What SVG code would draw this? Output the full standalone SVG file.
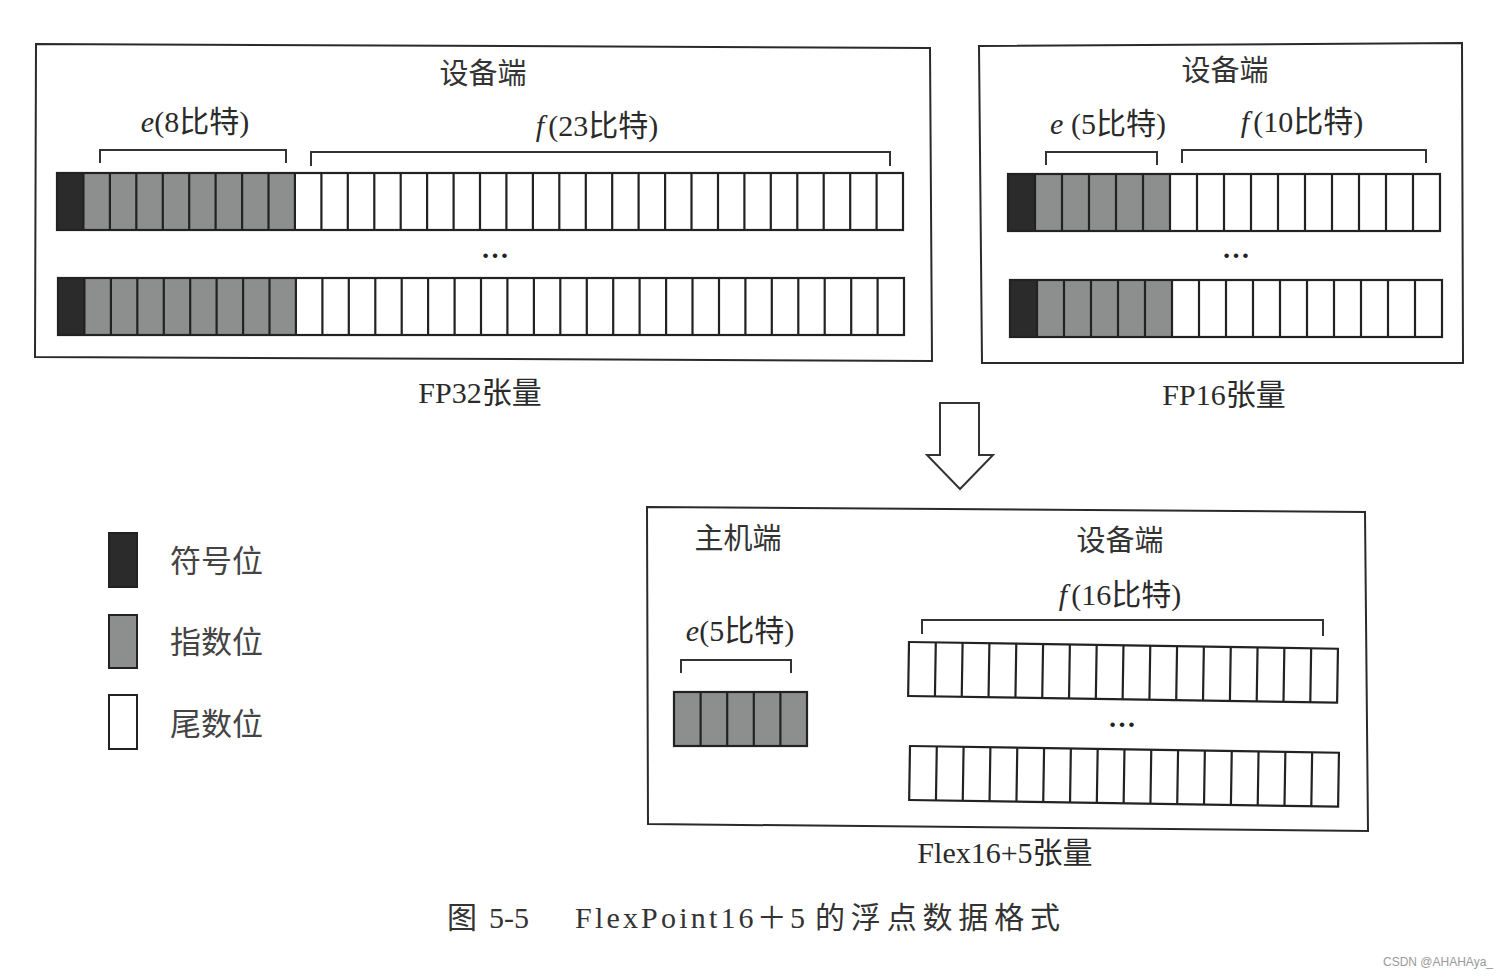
<svg xmlns="http://www.w3.org/2000/svg" width="1512" height="978" viewBox="0 0 1512 978">
<style>
.box{fill:none;stroke:#2a2a2a;stroke-width:2}
.cellb{fill:none;stroke:#222;stroke-width:2.2}
.sign{fill:#2b2b2b}
.exp{fill:#8d8f8f}
.man{fill:#fff}
.br{fill:none;stroke:#333;stroke-width:2}
.t{font-family:"Liberation Serif","Noto Sans CJK SC",serif;font-size:30px;fill:#2a2a2a;text-anchor:middle}
.cn{font-family:"Noto Sans CJK SC",sans-serif;font-size:29px;fill:#333;text-anchor:middle}
.lg{font-family:"Noto Sans CJK SC",sans-serif;font-size:31px;fill:#444}
.it{font-style:italic}
.dots{font-family:"Liberation Serif",serif;font-size:28px;font-weight:bold;fill:#222;text-anchor:middle}
</style>
<defs>
<g id="fp32row">
<rect class="man" x="0" y="0" width="846" height="57"/>
<rect class="sign" x="0" y="0" width="26.44" height="57"/>
<rect class="exp" x="26.44" y="0" width="211.5" height="57"/>
<path class="cellb" d="M26.4 0V57M52.9 0V57M79.3 0V57M105.8 0V57M132.2 0V57M158.6 0V57M185.1 0V57M211.5 0V57M237.9 0V57M264.4 0V57M290.8 0V57M317.3 0V57M343.7 0V57M370.1 0V57M396.6 0V57M423 0V57M449.4 0V57M475.9 0V57M502.3 0V57M528.8 0V57M555.2 0V57M581.6 0V57M608.1 0V57M634.5 0V57M661 0V57M687.4 0V57M713.8 0V57M740.3 0V57M766.7 0V57M793.2 0V57M819.6 0V57"/>
<rect class="cellb" x="0" y="0" width="846" height="57"/>
</g>
<g id="fp16row">
<rect class="man" x="0" y="0" width="432" height="57"/>
<rect class="sign" x="0" y="0" width="27" height="57"/>
<rect class="exp" x="27" y="0" width="135" height="57"/>
<path class="cellb" d="M27 0V57M54 0V57M81 0V57M108 0V57M135 0V57M162 0V57M189 0V57M216 0V57M243 0V57M270 0V57M297 0V57M324 0V57M351 0V57M378 0V57M405 0V57"/>
<rect class="cellb" x="0" y="0" width="432" height="57"/>
</g>
<g id="flexrow">
<rect class="man" x="0" y="0" width="429" height="54"/>
<path class="cellb" d="M26.8 0V54M53.6 0V54M80.4 0V54M107.3 0V54M134.1 0V54M160.9 0V54M187.7 0V54M214.5 0V54M241.3 0V54M268.1 0V54M294.9 0V54M321.8 0V54M348.6 0V54M375.4 0V54M402.2 0V54"/>
<rect class="cellb" x="0" y="0" width="429" height="54"/>
</g>
</defs>
<rect width="1512" height="978" fill="#fff"/>

<g id="fp32">
<polygon class="box" points="36,44 930,48 932,361 35,357"/>
<text class="cn" x="483" y="84">设备端</text>
<text class="t" x="195" y="132"><tspan class="it">e</tspan>(8比特)</text>
<text class="t" x="597" y="136"><tspan class="it">f</tspan><tspan dx="4">(23比特)</tspan></text>
<path class="br" d="M100 163V150H286V163"/>
<path class="br" d="M311 166V152H890V166"/>
<use href="#fp32row" x="57" y="173"/>
<text class="dots" x="495" y="258">…</text>
<use href="#fp32row" x="58" y="278"/>
<text class="t" x="480" y="403">FP32张量</text>
</g>

<g id="fp16">
<polygon class="box" points="979,46 1462,43 1463,363 982,363"/>
<text class="cn" x="1225" y="81">设备端</text>
<text class="t" x="1108" y="134"><tspan class="it">e</tspan> (5比特)</text>
<text class="t" x="1302" y="132"><tspan class="it">f</tspan><tspan dx="4">(10比特)</tspan></text>
<path class="br" d="M1046 165V152H1157V165"/>
<path class="br" d="M1182 163V150H1426V163"/>
<use href="#fp16row" x="1008" y="174"/>
<text class="dots" x="1236" y="258">…</text>
<use href="#fp16row" x="1010" y="280"/>
<text class="t" x="1224" y="405">FP16张量</text>
</g>

<g id="connectors">
<polygon points="940,403 979,403 979,455 993,455 960,489 927,455 940,455" fill="#fff" stroke="#333" stroke-width="2"/>
</g>

<g id="flex">
<polygon class="box" points="647,507 1365,512 1368,831 648,824"/>
<text class="cn" x="738" y="549">主机端</text>
<text class="cn" x="1120" y="551">设备端</text>
<text class="t" x="1120" y="605"><tspan class="it">f</tspan><tspan dx="4">(16比特)</tspan></text>
<text class="t" x="740" y="641"><tspan class="it">e</tspan>(5比特)</text>
<path class="br" d="M681 673V660H791V673"/>
<path class="br" d="M922 634V620H1323V636"/>
<g id="hostexp">
<rect class="exp" x="674" y="692" width="133" height="54"/>
<path class="cellb" d="M700.6 692V746M727.2 692V746M753.8 692V746M780.4 692V746"/>
<rect class="cellb" x="674" y="692" width="133" height="54"/>
</g>
<use href="#flexrow" transform="translate(909,642) rotate(0.9)"/>
<text class="dots" x="1122" y="727">…</text>
<use href="#flexrow" transform="translate(910,746) rotate(0.9)"/>
<text class="t" x="1005" y="863">Flex16+5张量</text>
</g>

<g id="legend">
<rect class="sign" x="109" y="533" width="28" height="54" stroke="#222" stroke-width="2"/>
<text class="lg" x="170" y="572">符号位</text>
<rect class="exp" x="109" y="615" width="28" height="53" stroke="#222" stroke-width="2"/>
<text class="lg" x="170" y="653">指数位</text>
<rect x="109" y="695" width="28" height="54" fill="#fff" stroke="#222" stroke-width="2"/>
<text class="lg" x="170" y="735">尾数位</text>
</g>

<g id="caption">
<text x="447" y="928" font-family="Noto Sans CJK SC,sans-serif" font-size="30" fill="#333">图</text>
<text x="489" y="928" font-family="Liberation Serif,serif" font-size="30" fill="#333">5-5</text>
<text x="575" y="928" font-family="Liberation Serif,Noto Sans CJK SC,serif" font-size="30" fill="#333" textLength="230" lengthAdjust="spacing">FlexPoint16＋5</text>
<text x="815" y="928" font-family="Noto Sans CJK SC,sans-serif" font-size="30" fill="#333" textLength="245" lengthAdjust="spacing">的浮点数据格式</text>
</g>
<text x="1383" y="966" font-family="Liberation Sans,sans-serif" font-size="12" fill="#999">CSDN @AHAHAya_</text>
</svg>
